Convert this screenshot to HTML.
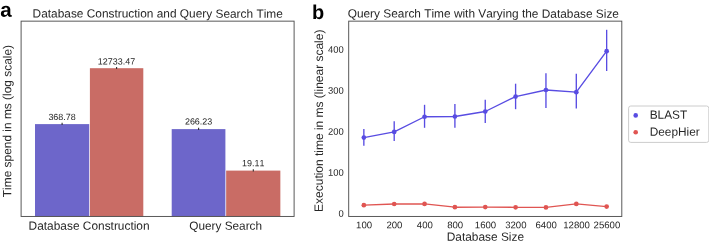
<!DOCTYPE html>
<html>
<head>
<meta charset="utf-8">
<title>Figure</title>
<style>
html,body{margin:0;padding:0;background:#fff;}
svg{display:block;}
text{font-family:"Liberation Sans",Arial,sans-serif;fill:#262626;font-kerning:none;}
</style>
</head>
<body>
<svg width="709" height="245" viewBox="0 0 709 245">
<rect x="0" y="0" width="709" height="245" fill="#ffffff"/>

<text transform="translate(0.3,16.7) rotate(0.03)" font-size="20.6" font-weight="bold" style="fill:#000">a</text>
<text transform="translate(312.0,19.0) rotate(0.03)" font-size="20" font-weight="bold" style="fill:#000">b</text>
<text transform="translate(157.7,17.6) rotate(0.03)" font-size="11.88" text-anchor="middle">Database Construction and Query Search Time</text>
<g>
<rect x="35.0" y="124.1" width="54.2" height="92.4" fill="#6d66ca"/>
<rect x="89.9" y="68.2" width="53.4" height="148.3" fill="#c96c65"/>
<rect x="171.7" y="129.1" width="53.7" height="87.4" fill="#6d66ca"/>
<rect x="226.15" y="170.6" width="54.2" height="45.9" fill="#c96c65"/>
</g>
<g stroke="#2e2e2e" stroke-width="1.1">
<line x1="62.1" y1="122.8" x2="62.1" y2="124.9"/>
<line x1="116.6" y1="66.9" x2="116.6" y2="69.0"/>
<line x1="198.6" y1="127.8" x2="198.6" y2="129.9"/>
<line x1="253.3" y1="169.3" x2="253.3" y2="171.4"/>
</g>
<rect x="21.1" y="21.15" width="273.0" height="195.3" fill="none" stroke="#505050" stroke-width="0.95"/>
<text transform="translate(62.05,119.9) rotate(0.03)" font-size="8.95" text-anchor="middle">368.78</text>
<text transform="translate(116.5,64.5) rotate(0.03)" font-size="8.95" text-anchor="middle">12733.47</text>
<text transform="translate(198.6,124.6) rotate(0.03)" font-size="8.95" text-anchor="middle">266.23</text>
<text transform="translate(253.2,166.3) rotate(0.03)" font-size="8.95" text-anchor="middle">19.11</text>
<text transform="translate(89.1,229.7) rotate(0.03)" font-size="11.9" text-anchor="middle">Database Construction</text>
<text transform="translate(225.65,229.7) rotate(0.03)" font-size="11.8" text-anchor="middle">Query Search</text>
<text transform="translate(11.35,121.1) rotate(-89.97)" font-size="11.91" text-anchor="middle">Time spend in ms (log scale)</text>
<text transform="translate(483.3,17.6) rotate(0.03)" font-size="11.88" text-anchor="middle">Query Search Time with Varying the Database Size</text>
<rect x="348.7" y="21.15" width="273.1" height="195.3" fill="none" stroke="#505050" stroke-width="0.95"/>
<text transform="translate(343.8,216.8) rotate(0.03)" font-size="9.45" text-anchor="end">0</text>
<text transform="translate(343.8,175.8) rotate(0.03)" font-size="9.45" text-anchor="end">100</text>
<text transform="translate(343.8,134.8) rotate(0.03)" font-size="9.45" text-anchor="end">200</text>
<text transform="translate(343.8,93.8) rotate(0.03)" font-size="9.45" text-anchor="end">300</text>
<text transform="translate(343.8,52.8) rotate(0.03)" font-size="9.45" text-anchor="end">400</text>
<text transform="translate(364.1,228.25) rotate(0.03)" font-size="9.6" text-anchor="middle">100</text>
<text transform="translate(394.45,228.25) rotate(0.03)" font-size="9.6" text-anchor="middle">200</text>
<text transform="translate(424.8,228.25) rotate(0.03)" font-size="9.6" text-anchor="middle">400</text>
<text transform="translate(455.15,228.25) rotate(0.03)" font-size="9.6" text-anchor="middle">800</text>
<text transform="translate(485.5,228.25) rotate(0.03)" font-size="9.6" text-anchor="middle">1600</text>
<text transform="translate(515.85,228.25) rotate(0.03)" font-size="9.6" text-anchor="middle">3200</text>
<text transform="translate(546.2,228.25) rotate(0.03)" font-size="9.6" text-anchor="middle">6400</text>
<text transform="translate(576.55,228.25) rotate(0.03)" font-size="9.6" text-anchor="middle">12800</text>
<text transform="translate(606.9,228.25) rotate(0.03)" font-size="9.6" text-anchor="middle">25600</text>
<text transform="translate(485.4,240.8) rotate(0.03)" font-size="11.9" text-anchor="middle">Database Size</text>
<text transform="translate(322.9,120.75) rotate(-89.97)" font-size="11.97" text-anchor="middle">Execution time in ms (linear scale)</text>
<g stroke="#584ce2" stroke-width="1.35" fill="none" stroke-linecap="round" stroke-linejoin="round">
<polyline points="363.85,137.6 394.2,131.9 424.55,116.75 454.9,116.5 485.25,111.5 515.6,96.6 545.95,90.0 576.3,92.2 606.65,51.2"/>
<line x1="363.85" y1="128.9" x2="363.85" y2="145.8" stroke-linecap="butt"/>
<line x1="394.2" y1="121.2" x2="394.2" y2="141.1" stroke-linecap="butt"/>
<line x1="424.55" y1="104.8" x2="424.55" y2="127.8" stroke-linecap="butt"/>
<line x1="454.9" y1="103.9" x2="454.9" y2="127.8" stroke-linecap="butt"/>
<line x1="485.25" y1="99.7" x2="485.25" y2="123.1" stroke-linecap="butt"/>
<line x1="515.6" y1="83.7" x2="515.6" y2="109.2" stroke-linecap="butt"/>
<line x1="545.95" y1="73.3" x2="545.95" y2="108.0" stroke-linecap="butt"/>
<line x1="576.3" y1="73.7" x2="576.3" y2="108.5" stroke-linecap="butt"/>
<line x1="606.65" y1="29.8" x2="606.65" y2="71.0" stroke-linecap="butt"/>
</g>
<g fill="#584ce2"><circle cx="363.85" cy="137.6" r="2.35"/><circle cx="394.2" cy="131.9" r="2.35"/><circle cx="424.55" cy="116.75" r="2.35"/><circle cx="454.9" cy="116.5" r="2.35"/><circle cx="485.25" cy="111.5" r="2.35"/><circle cx="515.6" cy="96.6" r="2.35"/><circle cx="545.95" cy="90.0" r="2.35"/><circle cx="576.3" cy="92.2" r="2.35"/><circle cx="606.65" cy="51.2" r="2.35"/></g>
<g stroke="#e05552" stroke-width="1.35" fill="none" stroke-linecap="round" stroke-linejoin="round">
<polyline points="363.85,205.2 394.2,204.0 424.55,203.9 454.9,207.2 485.25,207.1 515.6,207.3 545.95,207.4 576.3,203.9 606.65,206.6"/>
<line x1="394.2" y1="202.8" x2="394.2" y2="205.2" stroke-linecap="butt"/>
<line x1="424.55" y1="202.7" x2="424.55" y2="205.1" stroke-linecap="butt"/>
<line x1="576.3" y1="202.7" x2="576.3" y2="205.1" stroke-linecap="butt"/>
</g>
<g fill="#e05552"><circle cx="363.85" cy="205.2" r="2.35"/><circle cx="394.2" cy="204.0" r="2.35"/><circle cx="424.55" cy="203.9" r="2.35"/><circle cx="454.9" cy="207.2" r="2.35"/><circle cx="485.25" cy="207.1" r="2.35"/><circle cx="515.6" cy="207.3" r="2.35"/><circle cx="545.95" cy="207.4" r="2.35"/><circle cx="576.3" cy="203.9" r="2.35"/><circle cx="606.65" cy="206.6" r="2.35"/></g>
<rect x="628.6" y="106.0" width="80.2" height="36.4" rx="2.2" ry="2.2" fill="#fff" stroke="#cccccc" stroke-width="1"/>
<circle cx="635.7" cy="115.4" r="2.3" fill="#584ce2"/>
<circle cx="635.7" cy="132.3" r="2.3" fill="#e05552"/>
<text transform="translate(649.7,118.7) rotate(0.03)" font-size="11.85">BLAST</text>
<text transform="translate(649.7,135.8) rotate(0.03)" font-size="11.85">DeepHier</text>
</svg>
</body>
</html>
